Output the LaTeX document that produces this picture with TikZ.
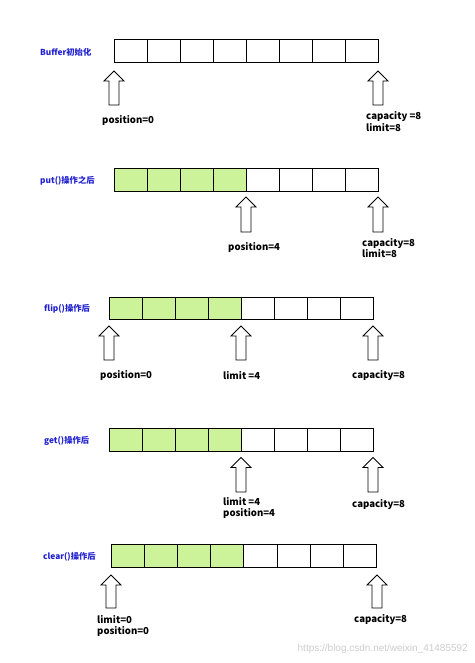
\documentclass[tikz,border=0pt]{standalone}
\usepackage{fontspec}
\newfontfamily\cjk{Noto Sans CJK SC}
\definecolor{fillgreen}{RGB}{204,242,154}
\definecolor{lblblue}{RGB}{32,32,208}
\definecolor{wmgray}{RGB}{205,205,205}
\newcommand\bufarrow[4]{% name, x, tip y, bottom y
  \coordinate (#1) at (#2,#3);
  \draw[arrowline] (#2,#3) -- ++(10,10) -- ++(-5,0) -- (#2+5,#4) -- (#2-5,#4) -- (#2-5,#3+10) -- ++(-5,0) -- cycle;}
\begin{document}
\begin{tikzpicture}[x=1pt,y=-1pt,
  cell/.style={draw=black,line width=1pt,minimum width=33pt,minimum height=22.5pt,inner sep=0pt,outer sep=0pt,anchor=north west},
  full/.style={cell,fill=fillgreen},
  arrowline/.style={draw=black,line width=0.8pt,fill=white,line join=miter},
  title/.style={font=\cjk\bfseries\fontsize{8.3}{9}\selectfont,text=lblblue,anchor=west,inner sep=0pt},
  val/.style={font=\cjk\bfseries\fontsize{9.6}{11.5}\selectfont,anchor=west,inner sep=0pt,align=left},
]
\useasboundingbox (0,0) rectangle (474,663);
\fill[white] (0,0) rectangle (474,663);
% Row 1
\node[title] (t1) at (40,52) {Buffer初始化};
\foreach \i in {0,...,7} \node[cell] (a\i) at (114+33*\i,40) {};
\bufarrow{a-pos}{114}{71}{105}
\bufarrow{a-cap}{378}{71}{105}
\node[val] (a-l1) at (102,121) {position=0};
\node[val] (a-l2) at (366,121.5) {capacity =8\\limit=8};
% Row 2
\node[title] (t2) at (40,181) {put()操作之后};
\foreach \i in {0,...,3} \node[full] (b\i) at (114+33*\i,168.5) {};
\foreach \i in {4,...,7} \node[cell] (b\i) at (114+33*\i,168.5) {};
\bufarrow{b-pos}{246}{197}{232}
\bufarrow{b-cap}{378}{197}{232}
\node[val] (b-l1) at (228,248) {position=4};
\node[val] (b-l2) at (362,248) {capacity=8\\limit=8};
% Row 3
\node[title] (t3) at (44,309) {flip()操作后};
\foreach \i in {0,...,3} \node[full] (c\i) at (109+33*\i,297) {};
\foreach \i in {4,...,7} \node[cell] (c\i) at (109+33*\i,297) {};
\bufarrow{c-pos}{109}{326}{360}
\bufarrow{c-lim}{241}{326}{360}
\bufarrow{c-cap}{373}{326}{360}
\node[val] (c-l1) at (100,375.5) {position=0};
\node[val] (c-l2) at (223,375.5) {limit =4};
\node[val] (c-l3) at (352,375.5) {capacity=8};
% Row 4
\node[title] (t4) at (44,441) {get()操作后};
\foreach \i in {0,...,3} \node[full] (d\i) at (109+33*\i,428.5) {};
\foreach \i in {4,...,7} \node[cell] (d\i) at (109+33*\i,428.5) {};
\bufarrow{d-lim}{241}{457.5}{492}
\bufarrow{d-cap}{373}{457.5}{492}
\node[val] (d-l1) at (223,508) {limit =4\\position=4};
\node[val] (d-l2) at (352,504.5) {capacity=8};
% Row 5
\node[title] (t5) at (43,557) {clear()操作后};
\foreach \i in {0,...,3} \node[full,minimum width=33.2pt] (e\i) at (111+33.2*\i,544.5) {};
\foreach \i in {4,...,7} \node[cell,minimum width=33.2pt] (e\i) at (111+33.2*\i,544.5) {};
\bufarrow{e-pos}{111}{575}{608}
\bufarrow{e-cap}{377}{575}{608}
\node[val] (e-l1) at (97,626) {limit=0\\position=0};
\node[val] (e-l2) at (354,620) {capacity=8};
% watermark
\node[font=\fontspec{Liberation Sans}\fontsize{10}{12}\selectfont,text=wmgray,anchor=east,inner sep=0pt] (wm) at (468,649) {https://blog.csdn.net/weixin\_41485592};
\end{tikzpicture}
\end{document}
